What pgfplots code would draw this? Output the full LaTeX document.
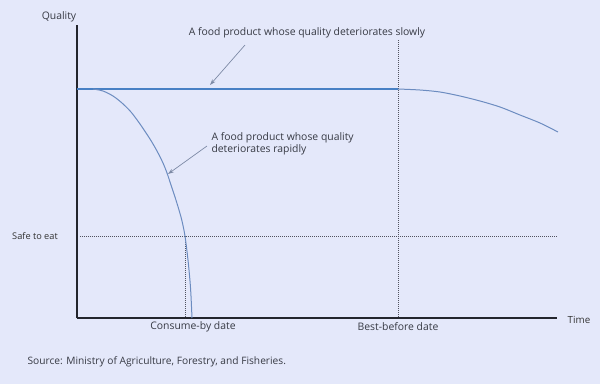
\documentclass[border=0pt]{standalone}
\usepackage{pgfplots}
\pgfplotsset{compat=1.18}
\usepackage{fontspec}
\setmainfont{Open Sans}
\usetikzlibrary{arrows.meta}
\definecolor{bgc}{RGB}{228,232,250}
\definecolor{txtc}{RGB}{55,58,68}
\definecolor{axc}{RGB}{35,37,45}
\definecolor{thickblue}{RGB}{72,128,196}
\definecolor{thinblue}{RGB}{108,140,192}
\definecolor{dotc}{RGB}{80,82,95}
\definecolor{arrc}{RGB}{125,138,165}
\tikzset{lbl/.style={text=txtc, font=\fontsize{10.4}{12.5}\selectfont}}
\pagecolor{bgc}
\begin{document}
\begin{tikzpicture}
\fill[bgc] (0pt,0pt) rectangle (600pt,384pt);
\begin{axis}[
  at={(77pt,66pt)}, anchor=south west,
  scale only axis, width=480pt, height=293pt,
  xmin=77, xmax=557, ymin=66, ymax=359,
  axis x line=bottom, axis y line=left,
  axis line style={-, line width=1.6pt, color=axc},
  xtick=\empty, ytick=\empty, clip=false,
]
% dotted guide lines
\addplot[dotc, line width=1pt, densely dotted] coordinates {(80,148) (557,148)};
\addplot[dotc, line width=1pt, densely dotted] coordinates {(185,148) (185,66)};
\addplot[dotc, line width=1pt, densely dotted] coordinates {(398,344) (398,66)};
% slow deterioration
\addplot[thickblue, line width=1.8pt] coordinates {(77,295) (398,295)};
\addplot[thinblue, line width=1pt, smooth] coordinates {(398,295) (420,294) (440,292) (460,288) (480,283) (500,277) (520,269) (540,261) (558,252)};
% rapid deterioration
\addplot[thinblue, line width=1pt, smooth, tension=0.5] coordinates {(93,295) (103,293) (113,288) (122,281) (131,272) (140,260) (150,245) (157,233) (163,221) (167,211) (171,199) (175,187) (179,174) (182,163) (185,148) (188,124) (190,103) (191,88) (192,66)};
% arrows
\draw[arrc, line width=0.7pt, -{Stealth[length=6pt,width=4pt]}] (axis cs:245,339) -- (axis cs:210,299);
\draw[arrc, line width=0.7pt, -{Stealth[length=6pt,width=4pt]}] (axis cs:207,238) -- (axis cs:168,210);
% texts
\node[lbl] at (axis cs:59,367) {Quality};
\node[lbl] at (axis cs:307,351) {A food product whose quality deteriorates slowly};
\node[lbl, anchor=west, align=left, font=\fontsize{10.4}{12.5}\selectfont] at (axis cs:208,240) {A food product whose quality\\deteriorates rapidly};
\node[lbl, font=\fontsize{9.2}{11}\selectfont, text=black!80] at (axis cs:35,148) {Safe to eat};
\node[lbl] at (axis cs:193,57) {Consume-by date};
\node[lbl] at (axis cs:398,57) {Best-before date};
\node[lbl, font=\fontsize{9.8}{11}\selectfont, text=black!80] at (axis cs:579,64) {Time};
\node[lbl, anchor=west, font=\fontsize{10.2}{12}\selectfont] at (axis cs:24,22) {Source: Ministry of Agriculture, Forestry, and Fisheries.};
\end{axis}
\end{tikzpicture}
\end{document}
